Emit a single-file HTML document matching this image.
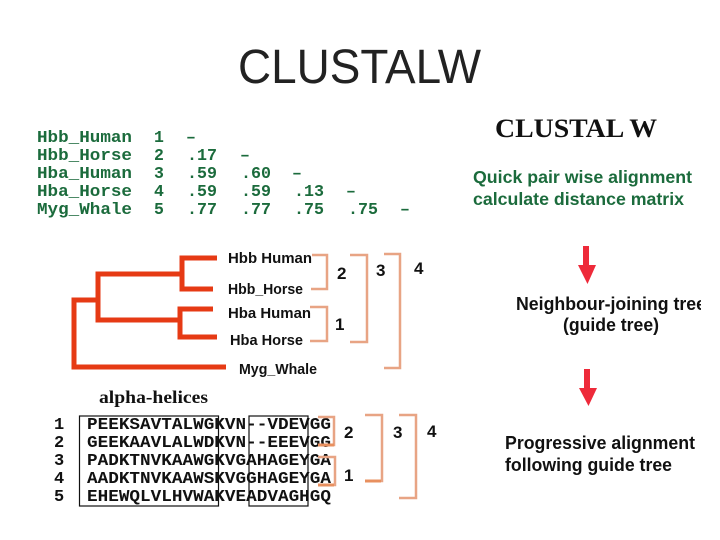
<!DOCTYPE html>
<html>
<head>
<meta charset="utf-8">
<style>
html,body{margin:0;padding:0;background:#fff;width:720px;height:540px;overflow:hidden}
svg{display:block}
.g{font:bold 16.5px "Liberation Mono",monospace;fill:#1b6b3c}
.s{font:bold 17px "Liberation Mono",monospace;fill:#111}
.t{font:bold 15px "Liberation Sans",sans-serif;fill:#111}
.n{font:bold 17px "Liberation Sans",sans-serif;fill:#111}
.b{font:bold 18px "Liberation Sans",sans-serif;fill:#111}
.gr{font:bold 17.5px "Liberation Sans",sans-serif;fill:#1b6b3c}
.tree{stroke:#e63a14;fill:none;stroke-width:5}
.br{stroke:#e8a484;fill:none;stroke-width:2.5}
.box{stroke:#111;fill:none;stroke-width:1.2}
</style>
</head>
<body>
<svg width="720" height="540" viewBox="0 0 720 540" xmlns="http://www.w3.org/2000/svg">
<defs><clipPath id="c"><rect x="460" y="290" width="241" height="30"/></clipPath></defs>
<text x="238" y="83" font-family="Liberation Sans,sans-serif" font-size="48" fill="#222" textLength="243" lengthAdjust="spacingAndGlyphs">CLUSTALW</text>

<!-- distance matrix -->
<g class="g">
<text x="37" y="142" textLength="95" lengthAdjust="spacingAndGlyphs">Hbb_Human</text>
<text x="37" y="160" textLength="95" lengthAdjust="spacingAndGlyphs">Hbb_Horse</text>
<text x="37" y="178" textLength="95" lengthAdjust="spacingAndGlyphs">Hba_Human</text>
<text x="37" y="196" textLength="95" lengthAdjust="spacingAndGlyphs">Hba_Horse</text>
<text x="37" y="214" textLength="95" lengthAdjust="spacingAndGlyphs">Myg_Whale</text>
<text x="154" y="142">1</text><text x="154" y="160">2</text><text x="154" y="178">3</text><text x="154" y="196">4</text><text x="154" y="214">5</text>
<text x="186" y="142">–</text>
<text x="187" y="160" textLength="30" lengthAdjust="spacingAndGlyphs">.17</text><text x="240" y="160">–</text>
<text x="187" y="178" textLength="30" lengthAdjust="spacingAndGlyphs">.59</text><text x="241" y="178" textLength="30" lengthAdjust="spacingAndGlyphs">.60</text><text x="292" y="178">–</text>
<text x="187" y="196" textLength="30" lengthAdjust="spacingAndGlyphs">.59</text><text x="241" y="196" textLength="30" lengthAdjust="spacingAndGlyphs">.59</text><text x="294" y="196" textLength="30" lengthAdjust="spacingAndGlyphs">.13</text><text x="346" y="196">–</text>
<text x="187" y="214" textLength="30" lengthAdjust="spacingAndGlyphs">.77</text><text x="241" y="214" textLength="30" lengthAdjust="spacingAndGlyphs">.77</text><text x="294" y="214" textLength="30" lengthAdjust="spacingAndGlyphs">.75</text><text x="348" y="214" textLength="30" lengthAdjust="spacingAndGlyphs">.75</text><text x="400" y="214">–</text>
</g>

<!-- tree -->
<path class="tree" d="M217 258H182V289H213M182 274H98V320H180M213 309H180V337H217M98 300H74V367H226"/>
<g class="t">
<text x="228" y="263" textLength="84" lengthAdjust="spacingAndGlyphs">Hbb  Human</text>
<text x="228" y="294" textLength="75" lengthAdjust="spacingAndGlyphs">Hbb_Horse</text>
<text x="228" y="318" textLength="83" lengthAdjust="spacingAndGlyphs">Hba  Human</text>
<text x="230" y="345" textLength="73" lengthAdjust="spacingAndGlyphs">Hba  Horse</text>
<text x="239" y="374" textLength="78" lengthAdjust="spacingAndGlyphs">Myg_Whale</text>
</g>
<path class="br" d="M312 255H327V289H311M310 307H327V341H310M350 255H367V342H350M384 254H400V368H384"/>
<g class="n">
<text x="337" y="279">2</text><text x="335" y="330">1</text><text x="376" y="276">3</text><text x="414" y="274">4</text>
</g>

<!-- alignment -->
<text x="99" y="403" font-family="Liberation Serif,serif" font-weight="bold" font-size="18" fill="#111" textLength="109" lengthAdjust="spacingAndGlyphs">alpha-helices</text>
<g class="s">
<text x="54" y="429">1</text><text x="54" y="447">2</text><text x="54" y="465">3</text><text x="54" y="483">4</text><text x="54" y="501">5</text>
<text x="87" y="429" textLength="244" lengthAdjust="spacingAndGlyphs">PEEKSAVTALWGKVN--VDEVGG</text>
<text x="87" y="447" textLength="244" lengthAdjust="spacingAndGlyphs">GEEKAAVLALWDKVN--EEEVGG</text>
<text x="87" y="465" textLength="244" lengthAdjust="spacingAndGlyphs">PADKTNVKAAWGKVGAHAGEYGA</text>
<text x="87" y="483" textLength="244" lengthAdjust="spacingAndGlyphs">AADKTNVKAAWSKVGGHAGEYGA</text>
<text x="87" y="501" textLength="244" lengthAdjust="spacingAndGlyphs">EHEWQLVLHVWAKVEADVAGHGQ</text>
</g>
<rect class="box" x="79.5" y="416" width="139" height="90"/>
<rect class="box" x="249" y="416" width="59" height="90"/>
<path class="br" d="M318 417H334V445H318M318 457H335V485H318M365 415H382V481H365M399 415H416V498H399"/>
<path stroke="#e8905f" stroke-width="3" fill="none" d="M318 445H334M318 485H334M365 481H381"/>
<g class="n">
<text x="344" y="438">2</text><text x="344" y="481">1</text><text x="393" y="438">3</text><text x="427" y="437">4</text>
</g>

<!-- right column -->
<text x="495" y="137" font-family="Liberation Serif,serif" font-weight="bold" font-size="26" fill="#111" textLength="162" lengthAdjust="spacingAndGlyphs">CLUSTAL W</text>
<text class="gr" x="473" y="183" textLength="219" lengthAdjust="spacingAndGlyphs">Quick pair wise alignment</text>
<text class="gr" x="473" y="205" textLength="211" lengthAdjust="spacingAndGlyphs">calculate distance matrix</text>
<path fill="#ee2a3a" d="M583 246H589V265H596L587.5 284 578 265H583Z"/>
<text class="b" x="516" y="310" textLength="190" lengthAdjust="spacingAndGlyphs" clip-path="url(#c)">Neighbour-joining tree</text>
<text class="b" x="563" y="331" textLength="96" lengthAdjust="spacingAndGlyphs">(guide tree)</text>
<path fill="#ee2a3a" d="M584 369H590V388H597L588.5 406 579 388H584Z"/>
<text class="b" x="505" y="449" textLength="190" lengthAdjust="spacingAndGlyphs">Progressive alignment</text>
<text class="b" x="505" y="471" textLength="167" lengthAdjust="spacingAndGlyphs">following guide tree</text>
</svg>
</body>
</html>
